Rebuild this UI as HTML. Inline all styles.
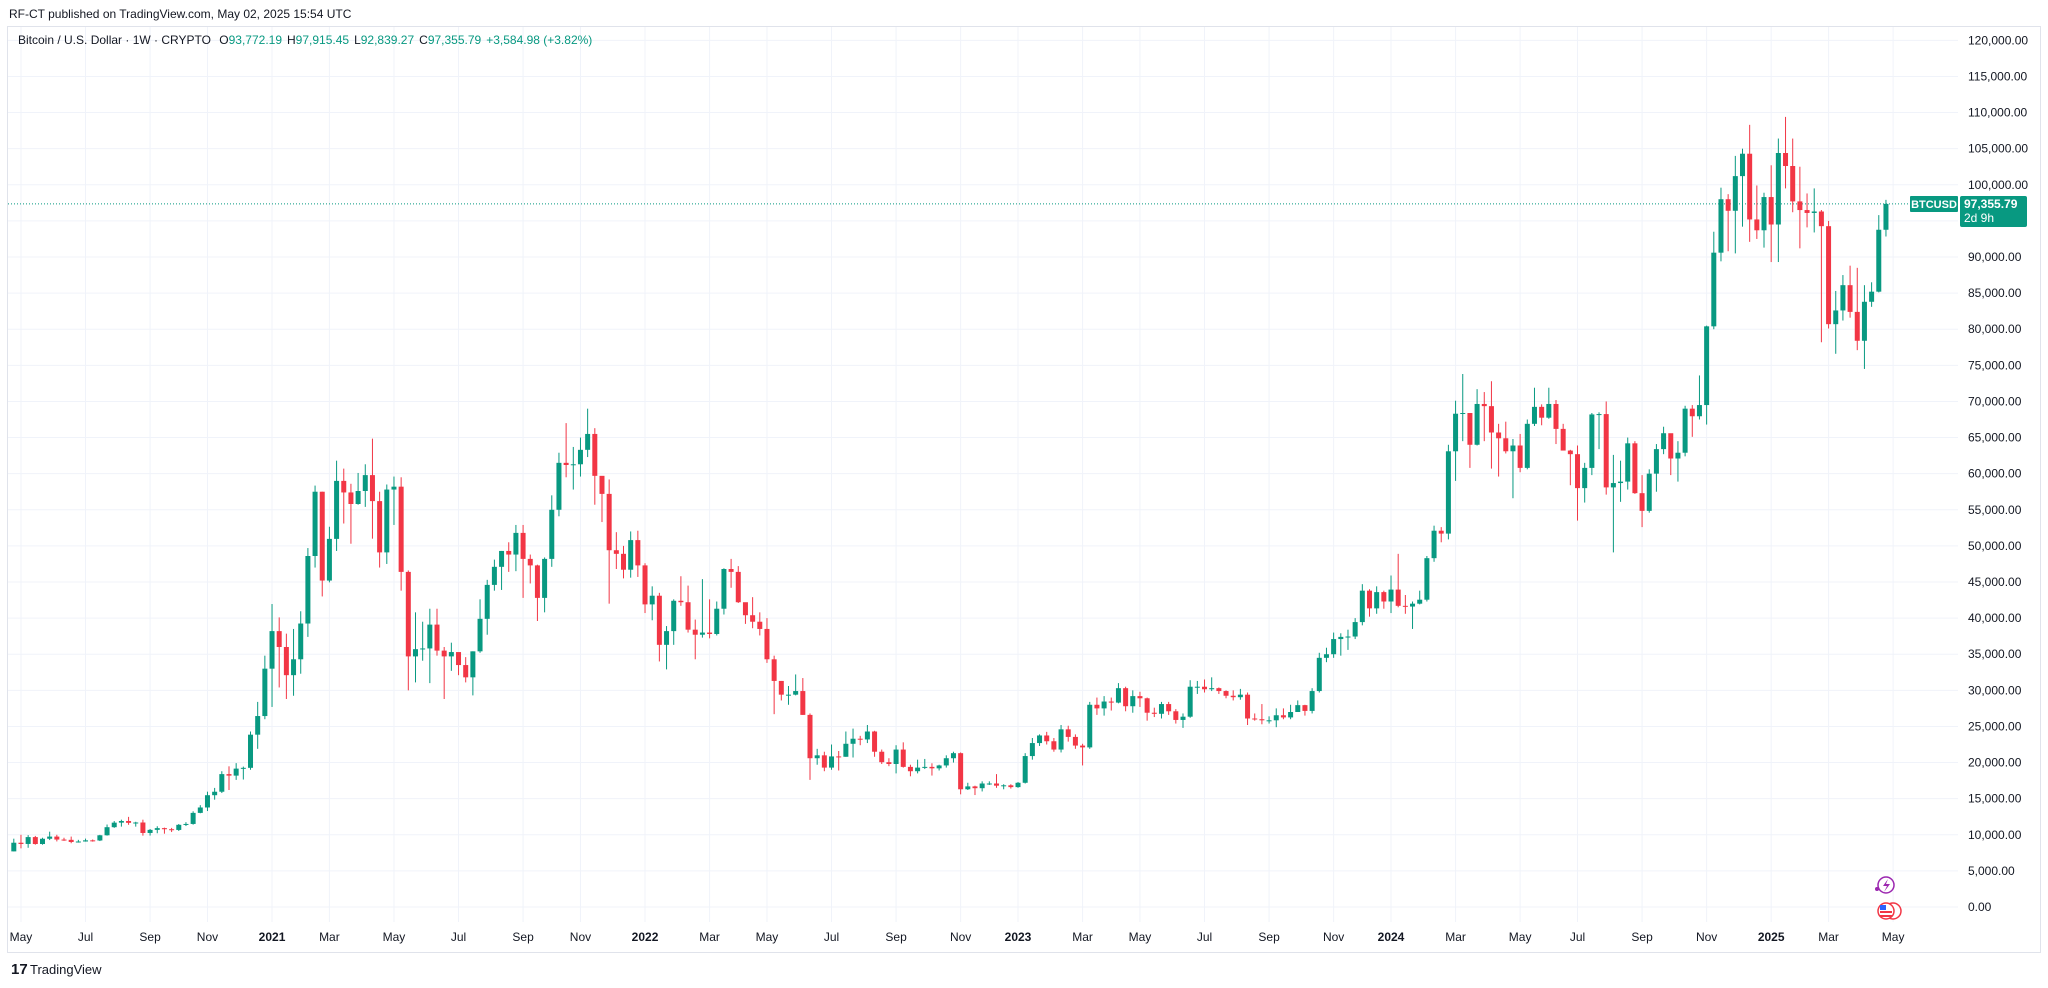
<!DOCTYPE html>
<html><head><meta charset="utf-8">
<style>
html,body{margin:0;padding:0;background:#fff;}
body{width:2048px;height:988px;overflow:hidden;font-family:"Liberation Sans",sans-serif;}
svg{display:block}
</style></head>
<body>
<svg id="chart" width="2048" height="988" xmlns="http://www.w3.org/2000/svg" font-family="Liberation Sans, sans-serif">
  <rect x="0" y="0" width="2048" height="988" fill="#ffffff"/>
  <text x="9" y="18" font-size="12" fill="#131722">RF-CT published on TradingView.com, May 02, 2025 15:54 UTC</text>
  <rect x="7.5" y="26.5" width="2033" height="926" fill="none" stroke="#e0e3eb" stroke-width="1"/>
  <g id="grid"></g>
  <line x1="8" x2="1958" y1="204" y2="204" stroke="#089981" stroke-width="1" stroke-dasharray="1,2" id="lastLine"/>
  <g id="candles"></g>
  <g id="yaxis"></g>
  <g id="xaxis"></g>
  <text x="18" y="44" font-size="12" fill="#131722">Bitcoin / U.S. Dollar · 1W · CRYPTO <tspan dx="5">O</tspan><tspan fill="#089981">93,772.19</tspan><tspan dx="5">H</tspan><tspan fill="#089981">97,915.45</tspan><tspan dx="5">L</tspan><tspan fill="#089981">92,839.27</tspan><tspan dx="5">C</tspan><tspan fill="#089981">97,355.79</tspan><tspan dx="5" fill="#089981">+3,584.98 (+3.82%)</tspan></text>
  <g id="priceLabel">
    <rect x="1910" y="196" width="48" height="16" fill="#089981" rx="1"/>
    <text x="1934" y="208" font-size="11" font-weight="bold" fill="#fff" text-anchor="middle">BTCUSD</text>
    <rect x="1960" y="196" width="67" height="31" fill="#089981" rx="2"/>
    <text x="1964" y="208" font-size="12" font-weight="bold" fill="#fff">97,355.79</text>
    <text x="1964" y="222" font-size="12" fill="#fff">2d 9h</text>
  </g>
  <g>
    <circle cx="1886" cy="885" r="8" fill="#fff" stroke="#9c27b0" stroke-width="1.5"/>
    <path d="M1888 879 L1883 886 L1887 886 L1884 892 L1890 884 L1886 884 Z" fill="#9c27b0"/>
    <circle cx="1877" cy="889" r="2" fill="#9c27b0"/>
  </g>
  <g>
    <circle cx="1893" cy="911" r="8" fill="#fff" stroke="#f23645" stroke-width="1.5"/>
    <circle cx="1886" cy="911" r="8" fill="#fff" stroke="#f23645" stroke-width="1.5"/>
    <rect x="1880" y="905" width="6" height="5" fill="#2962ff"/>
    <rect x="1880" y="911" width="12" height="2" fill="#f23645"/>
    <rect x="1880" y="915" width="12" height="2" fill="#f23645"/>
  </g>
  <g>
    <text x="11" y="974" font-size="15" font-weight="bold" fill="#131722">17</text>
    <text x="30" y="974" font-size="13" fill="#131722">TradingView</text>
  </g>
</svg>
<script>
const firstOpen = 7700;
const closes = [8900,8730,9680,8720,9450,9750,9340,9300,9000,9070,9230,9210,9930,11050,11680,11910,11650,11700,10250,10680,10920,10770,10670,11380,11500,13030,13780,15480,15960,18400,18190,19160,19270,23860,26440,33000,
38200,36000,32100,34300,39250,48600,57500,45200,50970,59000,57400,55800,57600,59800,56200,49100,57800,58200,46400,34700,35700,35800,39100,35500,34700,35300,33500,31800,35400,39900,44600,47100,49300,48800,51800,48200,47300,42800,48200,55000,61500,61200,61300,63300,65500,59700,57200,49400,48900,46700,50800,47300,
41900,43100,36300,38200,42400,42200,38400,37700,38000,37800,41300,46800,46400,42200,40400,39500,38500,34300,31300,29400,29400,29900,26600,20600,21000,19300,20850,20800,22600,23300,23200,24300,21500,20050,19800,21800,19400,18800,19300,19400,19200,19600,20600,21300,16300,16700,16450,17100,17100,16800,16850,16600,
17200,20900,22700,23750,22950,21800,24600,23550,22350,22100,28000,27500,28450,28300,30300,27800,29200,28900,26900,26750,28100,27100,25900,26350,30500,30500,30150,30300,29900,29250,29050,29400,26100,26000,25850,25850,26550,26250,27000,27950,27150,29900,34500,35000,37100,37400,37450,39450,43800,41350,43600,42300,
43950,41700,41600,42000,42550,48300,52100,51700,63100,68300,68400,64000,69650,69350,65700,64900,63100,63900,60800,66900,69250,67750,69650,66200,63200,62700,58000,60800,68200,68250,58100,58700,58900,64200,57300,54850,60000,63400,65600,62100,62900,69000,67950,69500,80400,90600,98000,96400,101200,104300,95200,93700,98300,
94500,104400,102600,97700,96500,96100,96300,94270,80700,82600,86100,82400,78400,83800,85200,93772,97356];
const highs = [9460,10000,9950,9840,9590,10430,10000,9590,9750,9300,9470,9350,9990,11420,11900,12090,12480,11800,12090,10800,11180,10990,10950,11490,11740,13250,14100,15970,16490,18800,19480,19920,19440,24300,28400,34800,
41950,40100,37850,38500,40950,49700,58350,57500,52650,61800,60700,58600,60100,61300,64850,57500,58500,59600,59500,46600,40800,39500,41300,41300,36000,36600,35100,34600,35400,42600,45300,48100,49300,50500,52900,52900,48800,47400,48400,57000,62900,67000,63700,65000,69000,66300,59400,59200,51900,50000,52000,52100,
47600,44400,43500,38900,42600,45800,44500,39800,45400,42600,42300,46900,48200,47200,41500,42900,40800,40000,34800,31300,30600,32200,31700,26800,21900,21500,22500,21600,24300,24700,23700,25200,24400,21800,20600,22400,22800,19700,20400,20500,19900,19700,21000,21500,21400,17200,16800,17400,17400,18400,17000,17000,
17300,21300,23400,23900,24250,23400,25200,25100,23900,22600,28400,29000,29200,29000,31000,30500,30000,29800,29000,27600,28400,28400,27400,26800,31400,31300,31500,31800,30400,30000,30000,30200,29700,26800,28100,26400,27500,27500,28000,28600,28000,30300,35200,35900,38000,37900,38400,40000,44700,44000,44400,43800,
45900,48900,43200,42300,43800,48600,52800,52600,64000,70100,73800,68100,71700,71300,72800,66900,67200,64800,65500,67500,71900,69600,71900,70200,66900,63300,63900,61500,68400,68500,70000,62600,61800,65000,64500,59800,60600,64100,66500,64900,64500,69400,69500,73600,80500,93500,99600,98700,104000,105000,108300,99900,98900,
102700,106400,109400,106400,102500,98800,99500,96500,95000,85300,87500,88800,88500,86100,86500,95800,97915];
const lows = [7700,8120,8200,8630,8630,9270,9080,9160,8830,8920,9050,9050,9130,9880,10960,11130,11380,11130,9880,9890,10210,10150,10380,10530,11210,11400,12980,13290,14860,15780,16200,17600,17650,19000,21900,26000,
27700,30400,28800,29250,32300,37400,47000,43000,44950,49300,53100,50300,55700,55400,51000,47000,47500,52900,43800,30000,31100,34100,31000,34800,28800,32700,32100,31100,29300,35200,37700,43800,43900,46400,46500,42800,44800,39600,40800,47100,54100,59500,57800,59600,62300,55700,53300,42000,46800,45500,45600,45700,
40700,39700,34000,32900,36300,41700,38000,34300,37300,37200,37600,40500,44200,42100,39200,38600,37600,33800,26700,28600,28000,29300,26600,17600,19700,18800,19000,18900,20800,20700,22400,22700,20800,19800,19500,18500,19300,18100,18500,19100,18200,18900,19300,20000,15600,16200,15500,16000,16900,16500,16300,16400,
16500,17100,20400,22300,22500,21500,21400,22900,21900,19600,21900,26600,26500,27200,28200,27100,26900,27700,25800,26300,26100,26600,25400,24800,26200,29500,29700,29900,29500,28900,28600,28700,25200,25800,25300,25400,24900,26000,26000,27200,26500,26800,29700,33900,34500,34800,35600,37100,39000,40200,40600,41300,
40700,41500,40600,38500,41900,42300,47800,50500,50900,59000,64500,60800,63900,64500,60700,59600,62800,56600,60200,60600,66600,66700,67600,64100,63400,58400,53500,56000,59800,63400,57100,49100,56100,57800,57200,52600,54600,57500,62700,59800,58900,62400,65100,67500,66800,80000,89400,90800,90500,94200,92100,92500,91300,
89300,89300,99500,96200,91200,94100,93400,78200,80100,76600,81200,81600,77100,74500,83100,85100,92839];

const tickLabels = ["May","Jul","Sep","Nov","2021","Mar","May","Jul","Sep","Nov","2022","Mar","May","Jul","Sep","Nov","2023","Mar","May","Jul","Sep","Nov","2024","Mar","May","Jul","Sep","Nov","2025","Mar","May"];
const tickDates = ["2020-05-01","2020-07-01","2020-09-01","2020-11-01","2021-01-01","2021-03-01","2021-05-01","2021-07-01","2021-09-01","2021-11-01","2022-01-01","2022-03-01","2022-05-01","2022-07-01","2022-09-01","2022-11-01","2023-01-01","2023-03-01","2023-05-01","2023-07-01","2023-09-01","2023-11-01","2024-01-01","2024-03-01","2024-05-01","2024-07-01","2024-09-01","2024-11-01","2025-01-01","2025-03-01","2025-05-01"];
const priceTicks = [0,5000,10000,15000,20000,25000,30000,35000,40000,45000,50000,55000,60000,65000,70000,75000,80000,85000,90000,100000,105000,110000,115000,120000];
const lastPrice = 97355.79;

const NS = "http://www.w3.org/2000/svg";
const X0 = 13.8, STEP = 7.173, START = Date.UTC(2020,3,27);
function xIdx(i){ return X0 + i*STEP; }
function xDate(s){ const p=s.split("-"); const d=Date.UTC(+p[0],+p[1]-1,+p[2]); const wk=(d-START)/(7*86400000); return X0 + Math.ceil(wk-0.01)*STEP; }
function yVal(v){ return 907 - v*0.0072222; }
function mk(tag, attrs, parent){ const e=document.createElementNS(NS,tag); for(const k in attrs) e.setAttribute(k,attrs[k]); parent.appendChild(e); return e; }

const grid = document.getElementById('grid');
priceTicks.concat([95000]).forEach(v=>{
  const l = mk('line',{x1:8,x2:1958,y1:yVal(v),y2:yVal(v),stroke:'#f0f3fa','stroke-width':1},grid);
  
  
});
tickDates.forEach(d=>{
  const x = xDate(d);
  const l = mk('line',{x1:x,x2:x,y1:27,y2:922,stroke:'#f0f3fa','stroke-width':1},grid);
  
  
});

const ya = document.getElementById('yaxis');
priceTicks.forEach(v=>{
  const t = mk('text',{x:1968,y:yVal(v)+4,'font-size':12,fill:'#131722'},ya);
  t.textContent = v.toLocaleString('en-US',{minimumFractionDigits:2,maximumFractionDigits:2});
  
  
});

const xa = document.getElementById('xaxis');
tickLabels.forEach((lab,i)=>{
  const isYear = /^\d{4}$/.test(lab);
  const t = mk('text',{x:xDate(tickDates[i]),y:941,'font-size':12,fill:'#131722','text-anchor':'middle','font-weight':isYear?'bold':'normal'},xa);
  t.textContent = lab;
  
  
});

const cg = document.getElementById('candles');
closes.forEach((c,i)=>{
  const o = i===0 ? firstOpen : closes[i-1];
  const up = c >= o;
  const col = up ? '#089981' : '#f23645';
  const x = xIdx(i);
  const w = mk('line',{x1:x,x2:x,y1:yVal(highs[i]),y2:yVal(lows[i]),stroke:col,'stroke-width':1},cg);
  
  
  const yt = yVal(Math.max(o,c)), yb = yVal(Math.min(o,c));
  const b = mk('rect',{x:x-2.5,y:yt,width:5,height:Math.max(1,yb-yt),fill:col},cg);
  
  
});

const ly = yVal(lastPrice);
const ll = document.getElementById('lastLine');
ll.setAttribute('y1',ly); ll.setAttribute('y2',ly);
</script>
</body></html>
